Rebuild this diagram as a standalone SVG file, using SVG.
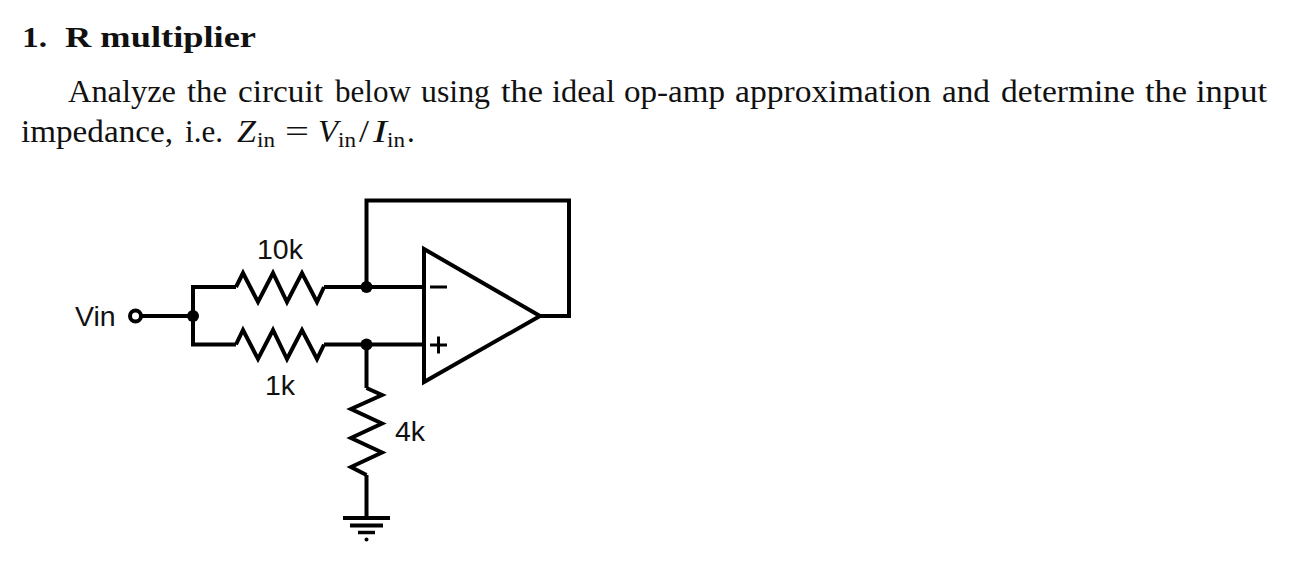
<svg xmlns="http://www.w3.org/2000/svg" width="1289" height="571" viewBox="0 0 1289 571">
<style>
.w{fill:none;stroke:#000;stroke-width:4;stroke-linejoin:miter;stroke-linecap:butt}
.d{fill:#000;stroke:none}
.t{font-family:"Liberation Serif","Times New Roman",serif;fill:#111}
.b{font-size:31px}
.h{font-size:30px;font-weight:bold}
.s{font-size:22px}
.i{font-style:italic}
.l{font-family:"Liberation Sans",Arial,sans-serif;font-size:28.500px;fill:#111}
</style>
<rect width="1289" height="571" fill="#fff"/>
<g id="text" lengthAdjust="spacingAndGlyphs">
<text class="t h" x="22" y="47" textLength="25" lengthAdjust="spacingAndGlyphs">1.</text>
<text class="t h" x="65" y="47" textLength="191" lengthAdjust="spacingAndGlyphs">R multiplier</text>
<text class="t b" x="68" y="102" textLength="108" lengthAdjust="spacingAndGlyphs">Analyze</text>
<text class="t b" x="187" y="102" textLength="40" lengthAdjust="spacingAndGlyphs">the</text>
<text class="t b" x="238" y="102" textLength="85" lengthAdjust="spacingAndGlyphs">circuit</text>
<text class="t b" x="335" y="102" textLength="76" lengthAdjust="spacingAndGlyphs">below</text>
<text class="t b" x="421" y="102" textLength="69" lengthAdjust="spacingAndGlyphs">using</text>
<text class="t b" x="501" y="102" textLength="42" lengthAdjust="spacingAndGlyphs">the</text>
<text class="t b" x="552" y="102" textLength="63" lengthAdjust="spacingAndGlyphs">ideal</text>
<text class="t b" x="624" y="102" textLength="101" lengthAdjust="spacingAndGlyphs">op-amp</text>
<text class="t b" x="735" y="102" textLength="196" lengthAdjust="spacingAndGlyphs">approximation</text>
<text class="t b" x="942" y="102" textLength="48" lengthAdjust="spacingAndGlyphs">and</text>
<text class="t b" x="1001" y="102" textLength="134" lengthAdjust="spacingAndGlyphs">determine</text>
<text class="t b" x="1145" y="102" textLength="42" lengthAdjust="spacingAndGlyphs">the</text>
<text class="t b" x="1196" y="102" textLength="71" lengthAdjust="spacingAndGlyphs">input</text>
<text class="t b" x="21" y="142" textLength="152" lengthAdjust="spacingAndGlyphs">impedance,</text>
<text class="t b" x="185" y="142" textLength="38" lengthAdjust="spacingAndGlyphs">i.e.</text>
<text class="t b i" x="237" y="142" textLength="19" lengthAdjust="spacingAndGlyphs">Z</text>
<text class="t s" x="257" y="147" textLength="18" lengthAdjust="spacingAndGlyphs">in</text>
<text class="t b" x="285" y="142" textLength="24" lengthAdjust="spacingAndGlyphs">=</text>
<text class="t b i" x="318" y="142" textLength="20" lengthAdjust="spacingAndGlyphs">V</text>
<text class="t s" x="338" y="147" textLength="18" lengthAdjust="spacingAndGlyphs">in</text>
<text class="t b" x="359" y="142" textLength="10" lengthAdjust="spacingAndGlyphs">/</text>
<text class="t b i" x="373" y="142" textLength="14" lengthAdjust="spacingAndGlyphs">I</text>
<text class="t s" x="387" y="147" textLength="18" lengthAdjust="spacingAndGlyphs">in</text>
<text class="t b" x="407" y="142">.</text>
</g>
<g id="connectors">
<path class="w" d="M141 316H193M236 287H193V344.500H236"/>
<path class="w" d="M324 287H424M324 344.500H424"/>
<path class="w" d="M366.500 287V200.500H569V316H540"/>
<path class="w" d="M366.500 344.500V388M366.500 475V518"/>
</g>
<g id="vin">
<circle cx="135.500" cy="316" r="5.500" fill="#fff" stroke="#000" stroke-width="4"/>
<text class="l" x="75" y="326">Vin</text>
</g>
<g id="junctions">
<circle class="d" cx="193" cy="316" r="6"/>
<circle class="d" cx="366.500" cy="287" r="6"/>
<circle class="d" cx="366.500" cy="344.500" r="6"/>
</g>
<g id="r10k">
<path class="w" d="M236 287L243 273L258 302L273 273L287 302L302 273L317 302L324 287"/>
<text class="l" x="257" y="258.500">10k</text>
</g>
<g id="r1k">
<path class="w" d="M236 344.500L243 330L258 359L273 330L287 359L302 330L317 359L324 344.500"/>
<text class="l" x="265" y="394.500">1k</text>
</g>
<g id="r4k">
<path class="w" d="M366.500 388L382 395L351 409L382 423.500L351 438L382 452.500L351 467L366.500 475"/>
<text class="l" x="395" y="440.500">4k</text>
</g>
<g id="opamp">
<path class="w" d="M424 249V382L540 316Z"/>
<path class="w" style="stroke-width:3" d="M430 287H447M430 345H447M438.500 336.500V353.500"/>
</g>
<g id="ground">
<path class="w" d="M343 518H390M350 525.500H383"/>
<path class="w" style="stroke-width:3.500" d="M358 532.500H375"/>
<circle class="d" cx="366.500" cy="539.500" r="2"/>
</g>
</svg>
